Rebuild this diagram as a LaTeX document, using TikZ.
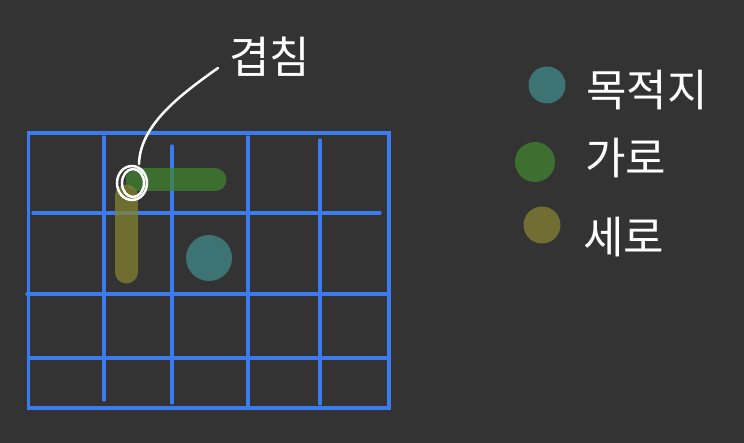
\documentclass[tikz,border=0pt]{standalone}
\usepackage{fontspec}
\usetikzlibrary{calc}
\newfontfamily\kr{Noto Sans CJK KR}
\definecolor{bgc}{RGB}{51,51,51}
\definecolor{gridblue}{RGB}{58,124,240}
\definecolor{barg}{RGB}{64,130,47}
\definecolor{baro}{RGB}{131,130,47}
\definecolor{tealc}{RGB}{62,115,115}
\definecolor{legg}{RGB}{61,112,48}
\definecolor{lego}{RGB}{112,110,50}
\begin{document}
\begin{tikzpicture}[x=1pt,y=-1pt,
  gridline/.style={draw=gridblue,line width=3.4pt,line cap=round},
  bar/.style={line width=23pt,line cap=round,opacity=0.75},
  pen/.style={draw=white,line width=2.5pt,line cap=round},
  lab/.style={text=white,font=\kr\fontsize{44}{46}\selectfont,anchor=west,inner sep=0pt},
  dot/.style={circle,inner sep=0pt,minimum size=#1}]
\fill[bgc] (0,0) rectangle (744,443);
\useasboundingbox (0,0) rectangle (744,443);
% grid
\draw[gridline] (28.5,133) rectangle (389,408);
\draw[gridline] (104,137) -- (104,400);
\draw[gridline] (172,146) -- (172,403);
\draw[gridline] (248,137) -- (248,408);
\draw[gridline] (320,140) -- (320,404);
\draw[gridline] (33,213) -- (380,213);
\draw[gridline] (27,294) -- (389,294);
\draw[gridline] (30,358) -- (386,358);
% bars
\coordinate (hs) at (137,180);
\coordinate (he) at (215,180);
\coordinate (vs) at (126,196);
\coordinate (ve) at (126,272);
\draw[bar,draw=barg] (hs) -- (he);
\draw[bar,draw=baro] (vs) -- (ve);
% destination blob
\node[dot=46pt,fill=tealc] (goal) at (209,258) {};
% overlap marker
\coordinate (ov) at (132,183);
\draw[pen] (ov) ellipse [x radius=15,y radius=17];
\draw[pen] ($(ov)+(1,0)$) ellipse [x radius=11,y radius=14];
\fill[white] (137,170) circle (1.5);
\node[lab] (overlap) at (229,57) {겹침};
\coordinate (cs) at (139,164);
\coordinate (ce) at (218,68);
\draw[pen] (cs) .. controls (140,125) and (180,95) .. (ce);
% legend
\node[dot=37pt,fill=tealc] (l1) at (547,85) {};
\node[dot=40pt,fill=legg] (l2) at (535,162) {};
\node[dot=37pt,fill=lego] (l3) at (542,225) {};
\node[lab] (t1) at (586,90) {목적지};
\node[lab] (t2) at (585,158) {가로};
\node[lab] (t3) at (583,237) {세로};
\end{tikzpicture}
\end{document}
